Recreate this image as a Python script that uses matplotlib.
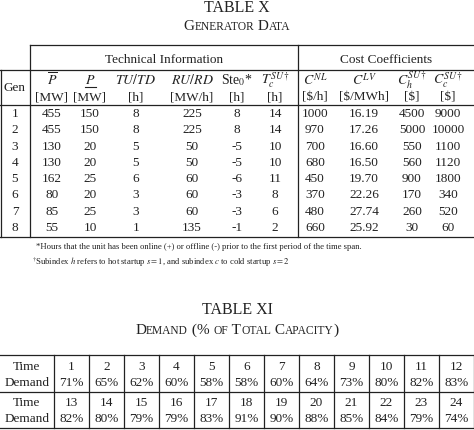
import matplotlib
matplotlib.use("Agg")
import matplotlib.pyplot as plt

plt.rcParams['font.family'] = ['Liberation Serif', 'DejaVu Serif']
plt.rcParams['mathtext.fontset'] = 'stix'

gens = [1, 2, 3, 4, 5, 6, 7, 8]
p_max = [455, 455, 130, 130, 162, 80, 85, 55]
p_min = [150, 150, 20, 20, 25, 20, 25, 10]
tu_td = [8, 8, 5, 5, 6, 3, 3, 1]
ru_rd = [225, 225, 50, 50, 60, 60, 60, 135]
ste0 = [8, 8, -5, -5, -6, -3, -3, -1]
t_su = [14, 14, 10, 10, 11, 8, 6, 2]
c_nl = [1000, 970, 700, 680, 450, 370, 480, 660]
c_lv = ["16.19", "17.26", "16.60", "16.50", "19.70", "22.26", "27.74", "25.92"]
c_h = [4500, 5000, 550, 560, 900, 170, 260, 30]
c_c = [9000, 10000, 1100, 1120, 1800, 340, 520, 60]

hours = list(range(1, 25))
demand = [71, 65, 62, 60, 58, 58, 60, 64, 73, 80, 82, 83,
          82, 80, 79, 79, 83, 91, 90, 88, 85, 84, 79, 74]

fig = plt.figure(figsize=(4.74, 4.30), dpi=100)
ax = fig.add_axes([0, 0, 1, 1])
ax.set_xlim(0, 474); ax.set_ylim(430, 0); ax.axis('off')
FS = 9.5
LW = 0.9
K = '#222222'

def t(x, y, s, fs=FS, ha='center', **kw):
    return ax.text(x, y, s, fontsize=fs, ha=ha, va='center', color=K, **kw)

def draw_sc(y, parts):
    fig.canvas.draw()
    r = fig.canvas.get_renderer()
    objs = []
    for s, f in parts:
        o = ax.text(0, y, s, fontsize=f, ha='left', va='baseline', color=K)
        objs.append(o)
    widths = [o.get_window_extent(renderer=r).width for o in objs]
    x = 237 - sum(widths) / 2
    for o, w in zip(objs, widths):
        o.set_x(x); x += w

# ---- Table X ----
t(237, 8, 'TABLE X', 11.5)
draw_sc(30, [('G', 11), ('ENERATOR', 8.3), (' D', 11), ('ATA', 8.3)])

ax.plot([30, 474], [45, 45], color=K, lw=LW)
ax.plot([0, 474], [70, 70], color=K, lw=LW)
ax.plot([0, 474], [105, 105], color=K, lw=LW)
ax.plot([0, 474], [237, 237], color=K, lw=LW)
ax.plot([30, 30], [45, 237], color=K, lw=LW)
ax.plot([298, 298], [45, 237], color=K, lw=LW)
ax.plot([1, 1], [70, 237], color=K, lw=LW)

t(164, 60, 'Technical Information')
t(386, 60, 'Cost Coefficients')
t(15, 88, 'Gen')
cols = [52, 90, 136, 192, 237, 275, 315, 364, 412, 448]
heads = [r'$\overline{P}$', r'$P$', r'$TU/TD$', r'$RU/RD$', r'Ste$_0$*',
         r'$T_c^{SU\dagger}$', r'$C^{NL}$', r'$C^{LV}$', r'$C_h^{SU\dagger}$', r'$C_c^{SU\dagger}$']
units = ['[MW]', '[MW]', '[h]', '[MW/h]', '[h]', '[h]', '[$/h]', '[$/MWh]', '[$]', '[$]']
for x, h, u in zip(cols, heads, units):
    t(x, 80, h, 10)
    t(x, 97, u)
ax.plot([cols[1] - 5, cols[1] + 6], [87, 87], color=K, lw=0.8)
rows = [gens, p_max, p_min, tu_td, ru_rd, ste0, t_su, c_nl, c_lv, c_h, c_c]
xs = [15] + cols
for i in range(8):
    y = 114 + i * 16.3
    for x, col in zip(xs, rows):
        t(x, y, str(col[i]))

t(36, 247, '*Hours that the unit has been online (+) or offline (-) prior to the first period of the time span.', 6.2, ha='left')
t(32, 262, r'$^{\dagger}$Subindex $h$ refers to hot startup $s=1$, and subindex $c$ to cold startup $s=2$', 6.2, ha='left')

# ---- Table XI ----
t(237, 310, 'TABLE XI', 11.5)
draw_sc(334, [('D', 11), ('EMAND', 8.3), (' (% ', 11), ('OF', 8.3), (' T', 11), ('OTAL', 8.3),
              (' C', 11), ('APACITY', 8.3), (')', 11)])

for y in (355, 392, 428):
    ax.plot([0, 474], [y, y], color=K, lw=LW)
for k in range(13):
    x = 54 + 35 * k
    ax.plot([x, x], [355, 428], color=K, lw=LW)
for half in range(2):
    y0 = 367 + half * 36
    t(27, y0, 'Time')
    t(27, y0 + 16, 'Demand')
    for k in range(12):
        idx = half * 12 + k
        x = 71.5 + 35 * k
        t(x, y0, str(hours[idx]))
        t(x, y0 + 16, f'{demand[idx]}%')

fig.savefig('out.png', dpi=100)
